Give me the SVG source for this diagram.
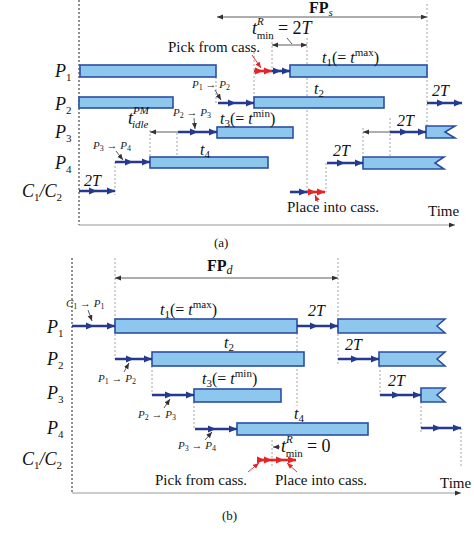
<svg xmlns="http://www.w3.org/2000/svg" width="474" height="536" viewBox="0 0 474 536">
<style>
.bar{fill:#8ec7ee;stroke:#2b4ea3;stroke-width:1.6}
.ba{fill:none;stroke:#253a8e;stroke-width:2.6}
.ra{fill:none;stroke:#e52424;stroke-width:2.6}
.dot{stroke:#9a9a9a;stroke-width:0.9;stroke-dasharray:2,2;fill:none}
.ax{stroke:#222;stroke-width:1;stroke-dasharray:2,2;fill:none}
.bl{stroke:#999;stroke-width:1.2;fill:none}
.thin{stroke:#333;stroke-width:0.8;fill:none}
.m{font-family:"Liberation Serif",serif;font-style:italic;font-size:18px;fill:#111}
.mm{font-family:"Liberation Serif",serif;font-style:italic;font-size:16px;fill:#111}
.sm{font-family:"Liberation Serif",serif;font-style:italic;font-size:11px;fill:#222}
.s{font-size:11px;font-style:normal}
.si{font-size:11px}
.ss{font-size:8px;font-style:normal}
.r{font-style:normal}
.t{font-family:"Liberation Serif",serif;font-size:15px;fill:#111}
.fp{font-family:"Liberation Serif",serif;font-weight:bold;font-size:16px;fill:#111}
</style>
<defs>
<marker id="bh" markerUnits="userSpaceOnUse" markerWidth="9" markerHeight="8" refX="8" refY="4" orient="auto"><path d="M0,0.5 L8,4 L0,7.5 z" fill="#253a8e"/></marker>
<marker id="rh" markerUnits="userSpaceOnUse" markerWidth="9" markerHeight="8" refX="8" refY="4" orient="auto"><path d="M0,0.5 L8,4 L0,7.5 z" fill="#e52424"/></marker>
<marker id="kh" markerUnits="userSpaceOnUse" markerWidth="7" markerHeight="6" refX="6" refY="2.5" orient="auto-start-reverse"><path d="M0,0 L6,2.5 L0,5 z" fill="#333"/></marker>
<marker id="rk" markerUnits="userSpaceOnUse" markerWidth="7" markerHeight="6" refX="6" refY="2.5" orient="auto"><path d="M0,0 L6,2.5 L0,5 z" fill="#e52424"/></marker>
</defs>

<!-- ================= (a) ================= -->
<g id="a-axes">
<line class="ax" x1="79" y1="0" x2="79" y2="225"/>
<line class="bl" x1="79" y1="225" x2="455" y2="225" marker-end="url(#kh)"/>
<text class="t" x="428" y="216">Time</text>
<text class="t" x="214" y="247" style="font-size:13px">(a)</text>
</g>

<g id="a-guides">
<line class="dot" x1="427" y1="4" x2="427" y2="126"/>
<line class="dot" x1="216" y1="77" x2="216" y2="103"/>
<line class="dot" x1="254" y1="52" x2="254" y2="97"/>
<line class="dot" x1="272" y1="38" x2="272" y2="71"/>
<line class="dot" x1="307" y1="38" x2="307" y2="192"/>
<line class="dot" x1="150" y1="130" x2="150" y2="157"/>
<line class="dot" x1="177" y1="133" x2="177" y2="156"/>
<line class="dot" x1="363" y1="128" x2="363" y2="157"/>
<line class="dot" x1="390" y1="118" x2="390" y2="157"/>
<line class="dot" x1="115" y1="162" x2="115" y2="195"/>
<line class="dot" x1="326" y1="163" x2="326" y2="192"/>
</g>

<g id="a-FPs">
<line class="thin" x1="217" y1="17" x2="427" y2="17" marker-start="url(#kh)" marker-end="url(#kh)"/>
<text class="fp" x="309" y="13">FP<tspan class="mm" style="font-weight:normal;font-size:11px" dy="3">s</tspan></text>
</g>

<g id="a-tminR">
<text class="m" x="252" y="34">t<tspan class="si" dy="-9">R</tspan><tspan class="s" dx="-7" dy="14">min</tspan><tspan class="r" dy="-5" dx="4">= 2</tspan>T</text>
<line class="thin" x1="272" y1="45" x2="307" y2="45" marker-start="url(#kh)" marker-end="url(#kh)"/>
<line class="thin" x1="287" y1="38" x2="292" y2="44"/>
</g>

<g id="a-P1">
<text class="m" x="55" y="77">P<tspan class="s" dy="4">1</tspan></text>
<rect class="bar" x="80" y="65" width="136" height="12"/>
<rect class="bar" x="290" y="65" width="137" height="12"/>
<text class="mm" x="322" y="63">t<tspan class="s" dy="3">1</tspan><tspan class="r" dy="-3">(= </tspan>t<tspan class="s" dy="-7">max</tspan><tspan class="r" dy="7">)</tspan></text>
</g>

<g id="a-P2">
<text class="m" x="55" y="110">P<tspan class="s" dy="4">2</tspan></text>
<rect class="bar" x="79" y="97" width="94" height="11"/>
<rect class="bar" x="254" y="97" width="130" height="11"/>
<text class="mm" x="314" y="94">t<tspan class="s" dy="3">2</tspan></text>
<text class="mm" x="432" y="96">2T</text>
</g>

<g id="a-P3">
<text class="m" x="55" y="138">P<tspan class="s" dy="4">3</tspan></text>
<rect class="bar" x="217" y="127" width="76" height="11"/>
<text class="mm" x="220" y="124">t<tspan class="s" dy="3">3</tspan><tspan class="r" dy="-3">(= </tspan>t<tspan class="s" dy="-7">min</tspan><tspan class="r" dy="7">)</tspan></text>
<text class="m" x="128" y="124">t<tspan class="si" dy="-10">PM</tspan><tspan class="si" dx="-17" dy="14">idle</tspan></text>
<path class="bar" d="M426,126 H455 L445,132 L455,138 H426 Z"/>
<text class="mm" x="397" y="126">2T</text>
</g>

<g id="a-P4">
<text class="m" x="55" y="169">P<tspan class="s" dy="4">4</tspan></text>
<rect class="bar" x="150" y="157" width="118" height="11"/>
<text class="mm" x="200" y="155">t<tspan class="s" dy="3">4</tspan></text>
<path class="bar" d="M363,157 H444 L435,163 L444,169 H363 Z"/>
<text class="mm" x="333" y="156">2T</text>
</g>

<g id="a-C">
<text class="m" x="22" y="197">C<tspan class="s" dy="4">1</tspan><tspan dy="-4">/C</tspan><tspan class="s" dy="4">2</tspan></text>
<text class="mm" x="84" y="186">2T</text>
<text class="t" x="168" y="52">Pick from cass.</text>
<text class="t" x="287" y="212">Place into cass.</text>
</g>

<g id="a-labels">
<text class="sm" x="192" y="88">P<tspan class="ss" dy="2">1</tspan><tspan class="r" dy="-2"> → </tspan>P<tspan class="ss" dy="2">2</tspan></text>
<text class="sm" x="173" y="116">P<tspan class="ss" dy="2">2</tspan><tspan class="r" dy="-2"> → </tspan>P<tspan class="ss" dy="2">3</tspan></text>
<text class="sm" x="93" y="149">P<tspan class="ss" dy="2">3</tspan><tspan class="r" dy="-2"> → </tspan>P<tspan class="ss" dy="2">4</tspan></text>
</g>

<g id="a-connectors">
<polyline class="ra" points="254,71 263,71 272,71" marker-mid="url(#rh)" marker-end="url(#rh)"/>
<polyline class="ba" points="272,71 281,71 290,71" marker-mid="url(#bh)" marker-end="url(#bh)"/>
<polyline class="ba" points="218,103 236,103 254,103" marker-mid="url(#bh)" marker-end="url(#bh)"/>
<polyline class="ba" points="427,103 445,103 462,103" marker-mid="url(#bh)" marker-end="url(#bh)"/>
<polyline class="ba" points="178,132 198,132 217,132" marker-mid="url(#bh)" marker-end="url(#bh)"/>
<polyline class="ba" points="390,132 408,132 426,132" marker-mid="url(#bh)" marker-end="url(#bh)"/>
<polyline class="ba" points="115,162 133,162 150,162" marker-mid="url(#bh)" marker-end="url(#bh)"/>
<polyline class="ba" points="327,163 345,163 363,163" marker-mid="url(#bh)" marker-end="url(#bh)"/>
<polyline class="ba" points="79,191 97,191 115,191" marker-mid="url(#bh)" marker-end="url(#bh)"/>
<line class="ba" x1="290" y1="192" x2="307" y2="192" marker-end="url(#bh)"/>
<polyline class="ra" points="307,192 316,192 325,192" marker-mid="url(#rh)" marker-end="url(#rh)"/>
<line class="thin" x1="178" y1="132" x2="150" y2="132" marker-end="url(#kh)"/>
<line class="thin" x1="390" y1="132" x2="363" y2="132" marker-end="url(#kh)"/>
<line class="thin" x1="215" y1="90" x2="221" y2="100" marker-end="url(#kh)"/>
<line class="thin" x1="194" y1="118" x2="195" y2="129" marker-end="url(#kh)"/>
<line class="thin" x1="116" y1="151" x2="123" y2="160" marker-end="url(#kh)"/>
<line stroke="#e52424" stroke-width="0.9" x1="252" y1="55" x2="261" y2="68" marker-end="url(#rk)"/>
<line stroke="#e52424" stroke-width="0.9" x1="318" y1="202" x2="315" y2="195" marker-end="url(#rk)"/>
</g>

<!-- ================= (b) ================= -->
<g id="b-axes">
<line class="ax" x1="72" y1="258" x2="72" y2="493"/>
<line class="bl" x1="72" y1="493" x2="461" y2="493" marker-end="url(#kh)"/>
<text class="t" x="440" y="488">Time</text>
<text class="t" x="222" y="520" style="font-size:13px">(b)</text>
</g>

<g id="b-guides">
<line class="dot" x1="115" y1="258" x2="115" y2="359"/>
<line class="dot" x1="338" y1="258" x2="338" y2="365"/>
<line class="dot" x1="297" y1="333" x2="297" y2="406"/>
<line class="dot" x1="152" y1="366" x2="152" y2="395"/>
<line class="dot" x1="380" y1="366" x2="380" y2="395"/>
<line class="dot" x1="194" y1="402" x2="194" y2="429"/>
<line class="dot" x1="421" y1="402" x2="421" y2="434"/>
<line class="dot" x1="461" y1="428" x2="461" y2="467"/>
<line class="dot" x1="272" y1="440" x2="272" y2="466"/>
</g>

<g id="b-FPd">
<line class="thin" x1="115" y1="278" x2="338" y2="278" marker-start="url(#kh)" marker-end="url(#kh)"/>
<text class="fp" x="207" y="271">FP<tspan class="mm" style="font-weight:normal;font-size:12px" dy="3">d</tspan></text>
</g>

<g id="b-P1">
<text class="m" x="47" y="333">P<tspan class="s" dy="4">1</tspan></text>
<rect class="bar" x="115" y="319" width="182" height="14"/>
<text class="mm" x="160" y="315">t<tspan class="s" dy="3">1</tspan><tspan class="r" dy="-3">(= </tspan>t<tspan class="s" dy="-7">max</tspan><tspan class="r" dy="7">)</tspan></text>
<path class="bar" d="M338,319 H445 L437,326 L445,333 H338 Z"/>
<text class="mm" x="308" y="316">2T</text>
</g>

<g id="b-P2">
<text class="m" x="47" y="365">P<tspan class="s" dy="4">2</tspan></text>
<rect class="bar" x="152" y="352" width="152" height="14"/>
<text class="mm" x="224" y="348">t<tspan class="s" dy="3">2</tspan></text>
<path class="bar" d="M379,352 H445 L437,359 L445,366 H379 Z"/>
<text class="mm" x="345" y="350">2T</text>
</g>

<g id="b-P3">
<text class="m" x="47" y="399">P<tspan class="s" dy="4">3</tspan></text>
<rect class="bar" x="194" y="389" width="87" height="13"/>
<text class="mm" x="202" y="384">t<tspan class="s" dy="3">3</tspan><tspan class="r" dy="-3">(= </tspan>t<tspan class="s" dy="-7">min</tspan><tspan class="r" dy="7">)</tspan></text>
<path class="bar" d="M421,388 H445 L437,395 L445,402 H421 Z"/>
<text class="mm" x="388" y="386">2T</text>
</g>

<g id="b-P4">
<text class="m" x="47" y="434">P<tspan class="s" dy="4">4</tspan></text>
<rect class="bar" x="237" y="423" width="131" height="12"/>
<text class="mm" x="294" y="419">t<tspan class="s" dy="3">4</tspan></text>
</g>

<g id="b-C">
<text class="m" x="22" y="465">C<tspan class="s" dy="4">1</tspan><tspan dy="-4">/C</tspan><tspan class="s" dy="4">2</tspan></text>
<text class="m" x="281" y="452">t<tspan class="si" dy="-9">R</tspan><tspan class="s" dx="-7" dy="14">min</tspan><tspan class="r" dy="-5" dx="4">= 0</tspan></text>
<text class="t" x="155" y="485">Pick from cass.</text>
<text class="t" x="275" y="485">Place into cass.</text>
</g>

<g id="b-labels">
<text class="sm" x="66" y="307">C<tspan class="ss" dy="2">1</tspan><tspan class="r" dy="-2"> → </tspan>P<tspan class="ss" dy="2">1</tspan></text>
<text class="sm" x="98" y="382">P<tspan class="ss" dy="2">1</tspan><tspan class="r" dy="-2"> → </tspan>P<tspan class="ss" dy="2">2</tspan></text>
<text class="sm" x="138" y="418">P<tspan class="ss" dy="2">2</tspan><tspan class="r" dy="-2"> → </tspan>P<tspan class="ss" dy="2">3</tspan></text>
<text class="sm" x="178" y="449">P<tspan class="ss" dy="2">3</tspan><tspan class="r" dy="-2"> → </tspan>P<tspan class="ss" dy="2">4</tspan></text>
</g>

<g id="b-connectors">
<polyline class="ba" points="72,326 94,326 115,326" marker-mid="url(#bh)" marker-end="url(#bh)"/>
<polyline class="ba" points="297,326 318,326 338,326" marker-mid="url(#bh)" marker-end="url(#bh)"/>
<polyline class="ba" points="115,359 134,359 152,359" marker-mid="url(#bh)" marker-end="url(#bh)"/>
<polyline class="ba" points="338,359 359,359 379,359" marker-mid="url(#bh)" marker-end="url(#bh)"/>
<polyline class="ba" points="152,395 173,395 194,395" marker-mid="url(#bh)" marker-end="url(#bh)"/>
<polyline class="ba" points="380,395 400,395 421,395" marker-mid="url(#bh)" marker-end="url(#bh)"/>
<polyline class="ba" points="195,429 216,429 237,429" marker-mid="url(#bh)" marker-end="url(#bh)"/>
<polyline class="ba" points="421,428 441,428 461,428" marker-mid="url(#bh)" marker-end="url(#bh)"/>
<polyline class="ra" points="257,460 265,460 272,460" marker-mid="url(#rh)" marker-end="url(#rh)"/>
<polyline class="ra" points="272,460 284,460 296,460" marker-mid="url(#rh)" marker-end="url(#rh)"/>
<line class="thin" x1="280" y1="447" x2="273" y2="447" marker-end="url(#kh)"/>
<line class="thin" x1="88" y1="310" x2="92" y2="321" marker-end="url(#kh)"/>
<line class="thin" x1="124" y1="372" x2="129" y2="363" marker-end="url(#kh)"/>
<line class="thin" x1="164" y1="408" x2="170" y2="399" marker-end="url(#kh)"/>
<line class="thin" x1="205" y1="440" x2="212" y2="432" marker-end="url(#kh)"/>
<line stroke="#e52424" stroke-width="0.9" x1="248" y1="472" x2="259" y2="463" marker-end="url(#rk)"/>
<line stroke="#e52424" stroke-width="0.9" x1="297" y1="472" x2="287" y2="463" marker-end="url(#rk)"/>
</g>
</svg>
